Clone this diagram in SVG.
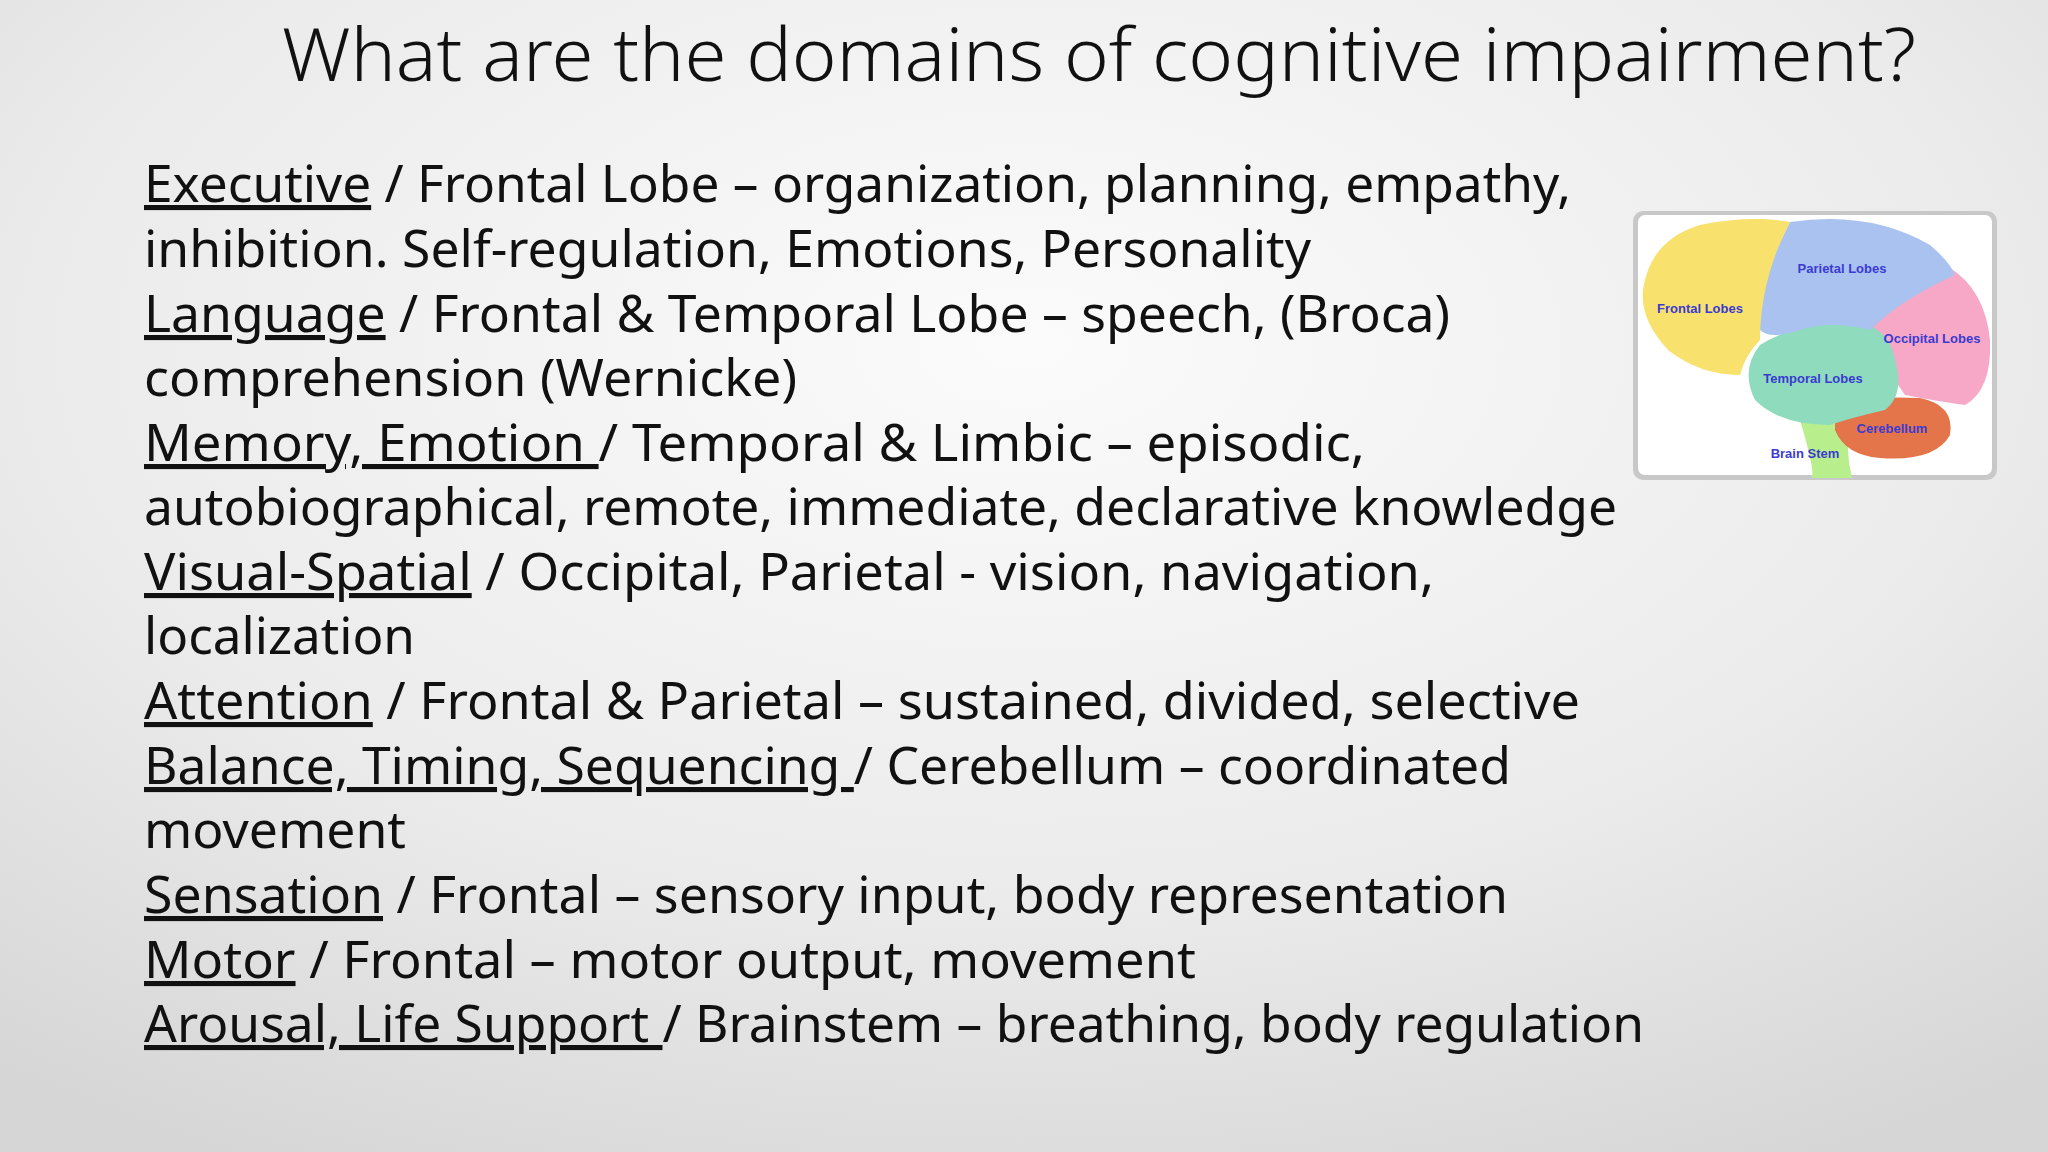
<svg xmlns="http://www.w3.org/2000/svg" width="2048" height="1152" viewBox="0 0 2048 1152">
<defs>
<radialGradient id="bg" cx="0.5" cy="0.3" r="0.8">
<stop offset="0" stop-color="#fbfbfb"/><stop offset="0.6" stop-color="#ebebeb"/><stop offset="1" stop-color="#d6d6d6"/>
</radialGradient>
<style>
.t{font-family:"Noto Sans","Open Sans",sans-serif;font-size:51px;fill:#111}
.u{text-decoration:underline}
.l{font-family:"Liberation Sans",Arial,sans-serif;font-weight:bold;font-size:13px;fill:#3b3bd0;text-anchor:middle}
</style>
</defs>
<rect width="2048" height="1152" fill="url(#bg)"/>
<text x="282" y="81" font-family="Noto Sans, sans-serif" font-weight="300" font-size="74" fill="#111" textLength="1634" lengthAdjust="spacingAndGlyphs">What are the domains of cognitive impairment?</text>
<g id="body" xml:space="preserve">
<text class="t" x="144" y="202" textLength="1427" lengthAdjust="spacingAndGlyphs"><tspan class="u">Executive</tspan> / Frontal Lobe – organization, planning, empathy,</text>
<text class="t" x="144" y="267" textLength="1167" lengthAdjust="spacingAndGlyphs">inhibition. Self-regulation, Emotions, Personality</text>
<text class="t" x="144" y="332" textLength="1306" lengthAdjust="spacingAndGlyphs"><tspan class="u">Language</tspan> / Frontal &amp; Temporal Lobe – speech, (Broca)</text>
<text class="t" x="144" y="396" textLength="653" lengthAdjust="spacingAndGlyphs">comprehension (Wernicke)</text>
<text class="t" x="144" y="461" textLength="1221" lengthAdjust="spacingAndGlyphs"><tspan class="u">Memory,  Emotion </tspan>/ Temporal &amp; Limbic – episodic,</text>
<text class="t" x="144" y="525" textLength="1473" lengthAdjust="spacingAndGlyphs">autobiographical, remote, immediate, declarative knowledge</text>
<text class="t" x="144" y="590" textLength="1290" lengthAdjust="spacingAndGlyphs"><tspan class="u">Visual-Spatial</tspan> / Occipital, Parietal -  vision, navigation,</text>
<text class="t" x="144" y="654" textLength="271" lengthAdjust="spacingAndGlyphs">localization</text>
<text class="t" x="144" y="719" textLength="1436" lengthAdjust="spacingAndGlyphs"><tspan class="u">Attention</tspan> / Frontal &amp; Parietal – sustained, divided, selective</text>
<text class="t" x="144" y="784" textLength="1367" lengthAdjust="spacingAndGlyphs"><tspan class="u">Balance, Timing, Sequencing </tspan>/ Cerebellum – coordinated</text>
<text class="t" x="144" y="848" textLength="262" lengthAdjust="spacingAndGlyphs">movement</text>
<text class="t" x="144" y="913" textLength="1364" lengthAdjust="spacingAndGlyphs"><tspan class="u">Sensation</tspan> / Frontal – sensory input, body representation</text>
<text class="t" x="144" y="978" textLength="1052" lengthAdjust="spacingAndGlyphs"><tspan class="u">Motor</tspan> / Frontal – motor output, movement</text>
<text class="t" x="144" y="1042" textLength="1500" lengthAdjust="spacingAndGlyphs"><tspan class="u">Arousal, Life Support </tspan>/ Brainstem – breathing, body regulation</text>
</g>
<g id="brain">
<rect x="1633" y="211" width="364" height="269" rx="10" fill="#c8c8c8"/>
<rect x="1638" y="215" width="354" height="260" rx="7" fill="#fff"/>
<path d="M1800,420 Q1815,470 1812,478 L1852,478 Q1845,450 1850,425 Z" fill="#b8ee8c"/>
<path d="M1835,410 Q1850,395 1920,398 Q1955,405 1950,435 Q1935,462 1880,458 Q1845,455 1835,430 Z" fill="#e4744a"/>
<path d="M1860,320 Q1900,290 1950,268 Q1985,290 1990,340 Q1992,390 1965,405 Q1930,400 1905,395 Q1880,360 1880,340 Z" fill="#f6a8c6"/>
<path d="M1760,345 Q1800,320 1860,322 Q1890,330 1895,360 Q1905,395 1885,410 Q1850,418 1830,425 Q1780,425 1755,400 Q1740,370 1760,345 Z" fill="#8edbbd"/>
<path d="M1790,222 Q1870,210 1930,245 Q1950,262 1955,275 Q1900,300 1870,330 Q1830,320 1800,330 Q1770,340 1760,330 Q1755,290 1790,222 Z" fill="#a9c2f0"/>
<path d="M1790,222 Q1760,280 1760,340 Q1745,355 1740,375 Q1700,375 1668,350 Q1640,320 1643,290 Q1650,240 1700,225 Q1750,215 1790,222 Z" fill="#f8e16c"/>
<text class="l" x="1842" y="273">Parietal Lobes</text>
<text class="l" x="1700" y="313">Frontal Lobes</text>
<text class="l" x="1932" y="343">Occipital Lobes</text>
<text class="l" x="1813" y="383">Temporal Lobes</text>
<text class="l" x="1892" y="433">Cerebellum</text>
<text class="l" x="1805" y="458">Brain Stem</text>
</g>
</svg>
